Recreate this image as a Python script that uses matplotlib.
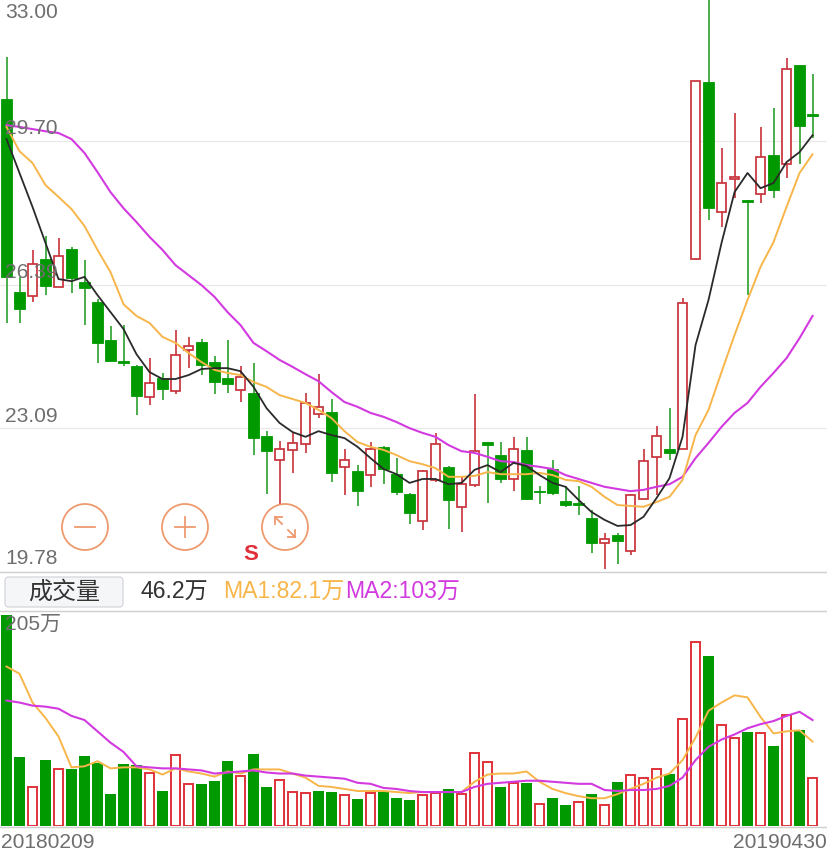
import matplotlib
matplotlib.use('Agg')
import matplotlib.pyplot as plt
import matplotlib.patches as mpatches
import numpy as np

plt.rcParams['font.family'] = ['Liberation Sans', 'Noto Sans CJK SC', 'DejaVu Sans']

# daily k-line
highs = [31.63, 26.57, 27.19, 27.51, 27.46, 27.26, 26.96, 26.06, 25.44, 25.46,
         24.54, 24.70, 24.36, 25.35, 25.19, 25.14, 24.75, 25.12, 24.52, 24.59,
         23.02, 22.79, 22.98, 23.90, 24.33, 23.76, 22.61, 22.24, 22.77, 22.68,
         22.40, 21.60, 22.13, 22.98, 22.22, 21.99, 23.87, 22.77, 22.77, 22.89,
         22.89, 21.76, 22.36, 21.76, 21.76, 21.21, 20.68, 20.68, 21.57, 22.61,
         23.14, 23.55, 26.08, 31.07, 33.20, 29.53, 30.34, 28.34, 30.02, 30.45,
         31.60, 31.44, 31.23]
lows = [25.51, 25.51, 25.99, 26.15, 26.34, 26.20, 25.46, 24.59, 24.63, 24.52,
        23.39, 23.62, 23.74, 23.87, 24.47, 24.31, 23.87, 23.90, 23.69, 22.47,
        21.57, 21.28, 22.06, 22.52, 23.32, 21.85, 21.55, 21.30, 21.74, 21.80,
        21.55, 20.88, 20.75, 21.85, 20.77, 20.70, 21.74, 21.37, 21.83, 21.64,
        21.44, 21.34, 21.55, 21.28, 21.09, 20.22, 19.85, 19.96, 20.17, 21.46,
        21.55, 22.36, 22.61, 26.96, 27.88, 27.72, 28.38, 26.15, 28.27, 28.38,
        28.84, 29.16, 29.76]
opens = [30.66, 26.22, 26.13, 26.98, 26.34, 27.21, 26.45, 25.99, 25.12, 24.63,
         24.52, 23.81, 24.24, 23.94, 24.89, 25.07, 24.61, 24.24, 23.97, 23.90,
         22.91, 22.36, 22.59, 22.72, 23.41, 23.46, 22.20, 22.10, 22.01, 22.66,
         22.03, 21.57, 20.95, 21.90, 22.20, 21.28, 21.78, 22.77, 22.47, 21.92,
         22.59, 21.64, 22.15, 21.41, 21.37, 21.02, 20.45, 20.63, 20.26, 21.46,
         22.43, 22.61, 22.61, 26.98, 31.05, 28.06, 28.82, 28.34, 28.47, 29.37,
         29.16, 31.44, 30.31]
closes = [26.57, 25.83, 26.86, 26.36, 27.05, 26.54, 26.31, 25.05, 24.63, 24.59,
          23.83, 24.13, 23.99, 24.77, 24.98, 24.54, 24.15, 24.10, 24.27, 22.86,
          22.56, 22.61, 22.75, 23.67, 23.58, 22.06, 22.36, 21.64, 22.61, 22.15,
          21.62, 21.14, 22.10, 22.72, 21.44, 21.80, 22.56, 22.70, 21.92, 22.61,
          21.46, 21.62, 21.60, 21.32, 21.32, 20.45, 20.54, 20.49, 21.55, 22.33,
          22.91, 22.52, 25.97, 31.07, 28.15, 28.73, 28.87, 28.29, 29.33, 28.57,
          31.35, 30.04, 30.27]

ma_short = [29.74, 28.96, 28.18, 27.35, 26.52, 26.47, 26.57, 26.15, 25.76, 25.37,
            24.79, 24.38, 24.22, 24.22, 24.31, 24.45, 24.47, 24.47, 24.40, 24.04,
            23.55, 23.21, 23.00, 22.89, 23.02, 22.93, 22.86, 22.66, 22.40, 22.15,
            22.03, 21.83, 21.92, 21.92, 21.80, 21.83, 22.13, 22.24, 22.08, 22.29,
            22.22, 22.01, 21.83, 21.74, 21.44, 21.16, 20.98, 20.84, 20.86, 21.05,
            21.48, 21.94, 22.89, 25.00, 26.04, 27.35, 28.52, 28.96, 28.61, 28.73,
            29.21, 29.44, 29.83]
ma_mid = [30.02, 29.46, 29.19, 28.68, 28.41, 28.13, 27.74, 27.19, 26.68, 25.94,
          25.67, 25.51, 25.19, 25.05, 24.82, 24.61, 24.43, 24.36, 24.31, 24.15,
          24.04, 23.85, 23.76, 23.67, 23.51, 23.32, 23.02, 22.77, 22.66, 22.59,
          22.47, 22.33, 22.26, 22.17, 21.97, 21.97, 21.99, 22.08, 22.03, 22.03,
          22.03, 22.06, 22.01, 21.90, 21.87, 21.74, 21.51, 21.32, 21.30, 21.28,
          21.39, 21.51, 21.90, 22.93, 23.51, 24.38, 25.23, 26.04, 26.80, 27.37,
          28.18, 28.96, 29.39]
ma_long = [30.06, 30.02, 29.97, 29.92, 29.88, 29.74, 29.42, 28.98, 28.52, 28.15,
           27.83, 27.49, 27.19, 26.84, 26.61, 26.38, 26.11, 25.76, 25.46, 25.05,
           24.86, 24.66, 24.50, 24.33, 24.17, 23.92, 23.69, 23.58, 23.44, 23.35,
           23.23, 23.09, 22.98, 22.89, 22.70, 22.56, 22.52, 22.43, 22.33, 22.31,
           22.24, 22.20, 22.15, 22.01, 21.92, 21.83, 21.74, 21.69, 21.64, 21.67,
           21.74, 21.80, 21.97, 22.40, 22.75, 23.12, 23.44, 23.67, 24.04, 24.36,
           24.70, 25.16, 25.67]

# volume, in units of 10k shares
volumes = [205, 67, 38, 64, 55, 55, 68, 61, 31, 60,
           59, 52, 34, 69, 41, 41, 44, 63, 49, 70,
           38, 45, 33, 32, 34, 33, 30, 26, 32, 33,
           27, 25, 30, 32, 36, 31, 71, 62, 38, 42,
           42, 21, 27, 20, 23, 31, 20, 43, 50, 47,
           55, 51, 104, 179, 165, 98, 86, 91, 90, 78,
           108, 93, 46.2]
volume_up = [0, 0, 1, 0, 1, 0, 0, 0, 0, 0,
             0, 1, 0, 1, 1, 0, 0, 0, 1, 0,
             0, 1, 1, 1, 0, 0, 1, 0, 1, 0,
             0, 0, 1, 1, 0, 1, 1, 1, 0, 1,
             0, 1, 0, 0, 1, 0, 1, 0, 1, 1,
             1, 0, 1, 1, 0, 1, 1, 0, 1, 0,
             1, 0, 1]
vol_ma1 = [155, 148, 120, 105, 87, 57, 58, 63, 56, 57,
           57, 55, 50, 56, 53, 51, 48, 53, 51, 55,
           55, 55, 51, 47, 39, 38, 36, 34, 34, 34,
           33, 32, 33, 33, 33, 33, 43, 50, 51, 51,
           53, 43, 36, 32, 29, 27, 27, 31, 36, 41,
           47, 51, 64, 86, 112, 120, 127, 125, 106, 90,
           92, 93, 82.1]
vol_ma2 = [122, 120, 117, 116, 114, 107, 103, 92, 81, 72,
           58, 57, 56, 56, 55, 54, 51, 52, 53, 54,
           52, 51, 51, 49, 48, 47, 46, 42, 41, 37,
           36, 34, 33, 33, 33, 33, 38, 41, 42, 43,
           44, 44, 43, 42, 41, 41, 35, 34, 35, 35,
           36, 39, 47, 64, 77, 84, 89, 95, 99, 102,
           107, 111, 103]

price_ticks = [29.70, 26.39, 23.09]
price_labels = ['33.00', '29.70', '26.39', '23.09', '19.78']
first_date = '20180209'
last_date = '20190430'

GREEN = '#009a00'
WICK_GREEN = '#2ba02b'
RED = '#c8323a'
VOL_RED = '#e0323a'
ORANGE = '#f7b54a'
PURPLE = '#d23ae0'
BLACK = '#2a2a2a'
GREY = '#6e6e6e'
BTN = '#ee9a6e'

W, H = 828, 852
fig = plt.figure(figsize=(W / 100, H / 100), dpi=100, facecolor='white')


def pixel_axes(top, bottom):
    ax = fig.add_axes([0, 1 - bottom / H, 1, (bottom - top) / H])
    ax.axis('off')
    ax.set_xlim(-0.5, 63.19)
    return ax


x = np.arange(len(closes))
bar_up = np.array(closes) >= np.array(opens)

# candlesticks
ax = pixel_axes(0, 572)
ax.set_ylim(19.78, 32.94)
for tick in price_ticks:
    ax.axhline(tick, color='#e9e9e9', lw=0.9, zorder=1)

for i in x:
    c = WICK_GREEN if not bar_up[i] else RED
    ax.vlines(i, lows[i], highs[i], color=c, lw=1.2, zorder=2)
    top = max(opens[i], closes[i])
    bottom = min(opens[i], closes[i])
    if bar_up[i]:
        ax.bar(i, top - bottom, bottom=bottom, width=0.66, facecolor='white',
               edgecolor=RED, lw=1.25, zorder=3)
    else:
        ax.bar(i, top - bottom, bottom=bottom, width=0.82, facecolor=GREEN,
               edgecolor=GREEN, lw=0.6, zorder=3)

ax.plot(x, ma_long, color=PURPLE, lw=1.5, zorder=4)
ax.plot(x, ma_mid, color=ORANGE, lw=1.4, zorder=4)
ax.plot(x, ma_short, color=BLACK, lw=1.3, zorder=5)

# volume bars
vax = pixel_axes(612, 826)
vax.set_ylim(0, 208)
for i in x:
    if volume_up[i]:
        vax.bar(i, volumes[i], width=0.66, facecolor='white', edgecolor=VOL_RED,
                lw=1.4, zorder=2)
    else:
        vax.bar(i, volumes[i], width=0.85, color=GREEN, zorder=2)
vax.plot(x, vol_ma1, color=ORANGE, lw=1.4, zorder=3)
vax.plot(x, vol_ma2, color=PURPLE, lw=1.5, zorder=4)

# overlay in screen pixels for the texts, rules and zoom buttons
ov = fig.add_axes([0, 0, 1, 1], zorder=10)
ov.axis('off')
ov.patch.set_alpha(0)
ov.set_xlim(0, W)
ov.set_ylim(H, 0)

for yy in [572, 611, 827]:
    ov.plot([0, W], [yy, yy], color='#cfcfcf', lw=1.0, zorder=1)

for label, yy in zip(price_labels, [13, 129, 272, 416, 558]):
    ov.text(5, yy, label, color=GREY, fontsize=15.1, ha='left', va='center', zorder=6)

ov.text(5, 624, '205万', color=GREY, fontsize=15.1, ha='left', va='center', zorder=6)
ov.text(1, 842, first_date, color=GREY, fontsize=15.1, ha='left', va='center')
ov.text(827, 842, last_date, color=GREY, fontsize=15.1, ha='right', va='center')

tab = mpatches.FancyBboxPatch((5, 577), 118, 30, boxstyle='round,pad=0,rounding_size=4',
                              facecolor='#f5f6f8', edgecolor='#d3d6db', lw=0.9)
ov.add_patch(tab)
ov.text(64, 592.5, '成交量', color='#333333', fontsize=17.3, ha='center', va='center')
ov.text(141, 592.5, '46.2万', color='#333333', fontsize=16.6, ha='left', va='center')
ov.text(223, 592.5, 'MA1:82.1万', color=ORANGE, fontsize=16.6, ha='left', va='center')
ov.text(345, 592.5, 'MA2:103万', color=PURPLE, fontsize=16.6, ha='left', va='center')

# zoom buttons
for cx in [85, 185, 285]:
    ov.add_patch(mpatches.Ellipse((cx, 527), 46, 46, facecolor='white', edgecolor=BTN,
                                  lw=1.3, zorder=7))
ov.plot([75, 95], [527, 527], color=BTN, lw=1.3, zorder=8)
ov.plot([175, 195], [527, 527], color=BTN, lw=1.3, zorder=8)
ov.plot([185, 185], [517, 537], color=BTN, lw=1.3, zorder=8)
for sx, sy in [(275, 517), (295, 537)]:
    d = 1 if sx < 285 else -1
    ov.plot([sx, sx + 7 * d], [sy, sy + 7 * d], color=BTN, lw=1.3, zorder=8)
    ov.plot([sx, sx + 7 * d], [sy, sy], color=BTN, lw=1.3, zorder=8)
    ov.plot([sx, sx], [sy, sy + 7 * d], color=BTN, lw=1.3, zorder=8)

ov.text(251, 555, 'S', color='#e0303a', fontsize=16, fontweight='bold',
        ha='center', va='center', zorder=8)

fig.savefig('out.png', dpi=100)
